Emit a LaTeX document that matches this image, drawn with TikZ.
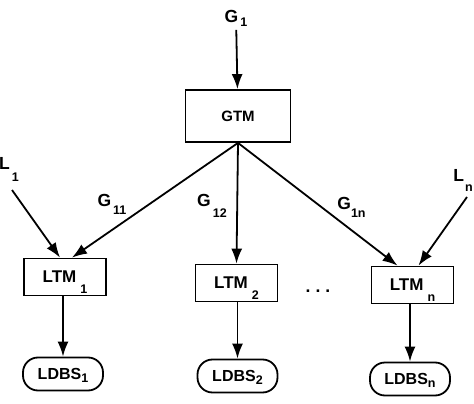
\documentclass[tikz,border=0pt]{standalone}
\usepackage{fontspec}
\setmainfont{Liberation Sans}
\usetikzlibrary{arrows.meta}
\newcommand{\lsub}[2]{\hspace{2pt}\raisebox{-#1}[0pt][0pt]{\fontsize{12.5}{14}\selectfont #2}}
\begin{document}
\begin{tikzpicture}[x=1pt,y=-1pt,
  tm/.style={draw,line width=1.8pt,minimum width=82pt,minimum height=37pt,inner sep=0pt,
    font=\fontsize{17}{20}\selectfont\bfseries},
  db/.style={draw,line width=1.8pt,rounded corners=15pt,minimum width=80pt,minimum height=33pt,
    inner sep=0pt,font=\fontsize{16}{20}\selectfont\bfseries},
  lab/.style={inner sep=1pt,font=\fontsize{17.5}{20}\selectfont\bfseries},
  ar/.style={-{Latex[length=15pt,width=11pt]},line width=1.8pt}]
  \useasboundingbox (0,0) rectangle (474,404);
  % global manager
  \node[tm,minimum width=105pt,minimum height=52pt,font=\fontsize{15}{18}\selectfont\bfseries]
    (gtm) at (238,116) {GTM};
  \node[lab] (g1) at (236,16.5) {G\lsub{4pt}{1}};
  \draw[ar,shorten <=6pt] (g1) -- (gtm);
  % local managers and databases
  \foreach \n/\x/\y/\dx/\dy in {1/65/277/63/374, 2/236.5/283/237.5/376, n/412.5/285/410/379}
  {
    \node[tm] (ltm\n) at (\x,\y) {LTM\hspace{2pt}\lsub{11pt}{\n}};
    \node[db] (ldbs\n) at (\dx,\dy) {LDBS\hspace{-2pt}\lsub{3pt}{\n}};
    \draw[ar] (ldbs\n.north |- ltm\n.south) -- (ldbs\n);
  }
  \node[lab] (dots) at (318,291) {.\hspace{5pt}.\hspace{5pt}.};
  % edges from GTM
  \node[lab] (g11) at (112,200) {G\lsub{8pt}{11}};
  \node[lab] (g12) at (212,200) {G\lsub{11pt}{12}};
  \node[lab] (g1n) at (351.5,203.5) {G\hspace{-2pt}\lsub{8pt}{1n}};
  \draw[ar] (gtm.south) -- ([xshift=7pt]ltm1.north);
  \draw[ar] (gtm.south) -- (ltm2.north);
  \draw[ar] (gtm.south) -- ([xshift=-15pt]ltmn.north);
  % local inputs
  \node[lab] (l1) at (9,163.5) {L\lsub{12pt}{1}};
  \node[lab] (ln) at (463,175.5) {L\hspace{-1pt}\lsub{10pt}{n}};
  \coordinate (l1s) at (12,190);
  \coordinate (lns) at (467,197);
  \draw[ar] (l1s) -- ([xshift=-5pt]ltm1.north);
  \draw[ar] (lns) -- ([xshift=6pt]ltmn.north);
\end{tikzpicture}
\end{document}
